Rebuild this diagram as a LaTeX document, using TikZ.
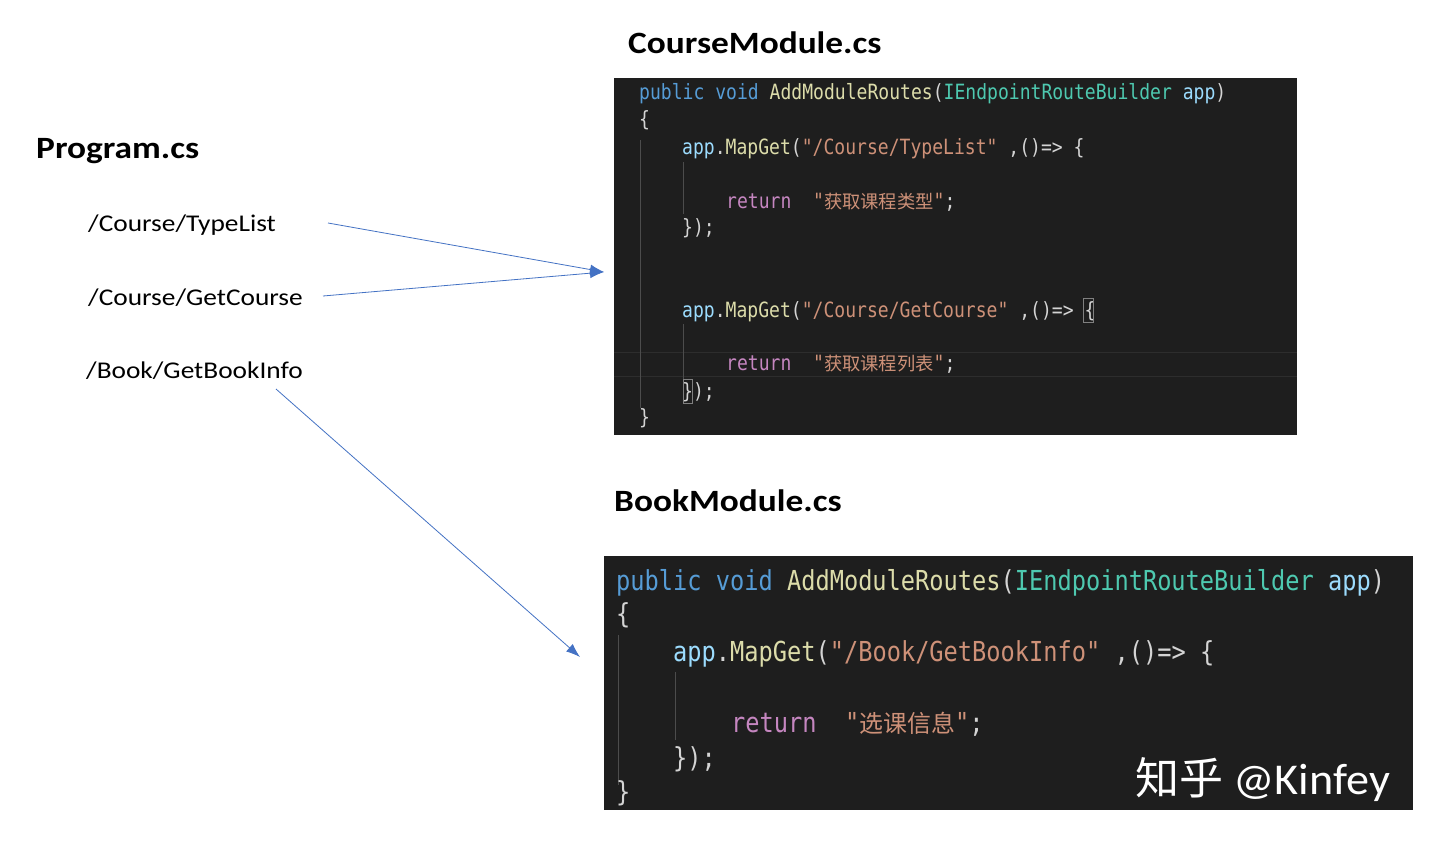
\documentclass[tikz,border=0pt]{standalone}
\usepackage{fontspec}
\setmainfont{Carlito}[FakeStretch=1.14]
\newfontfamily\code{DejaVu Sans Mono}[FakeStretch=0.86]
\newfontfamily\cjk{Noto Sans CJK SC}
\newfontfamily\cjks{Noto Sans CJK SC}[Scale=0.87]
\newfontfamily\wmf{Carlito}[FakeStretch=1.05]
\usetikzlibrary{arrows.meta}
\definecolor{bg}{HTML}{1E1E1E}
\definecolor{kw}{HTML}{569CD6}
\definecolor{fn}{HTML}{DCDCAA}
\definecolor{ty}{HTML}{4EC9B0}
\definecolor{va}{HTML}{9CDCFE}
\definecolor{st}{HTML}{CE9178}
\definecolor{rt}{HTML}{C586C0}
\definecolor{tx}{HTML}{D4D4D4}
\definecolor{ar}{HTML}{4472C4}
\newcommand{\K}[1]{\textcolor{kw}{#1}}
\newcommand{\F}[1]{\textcolor{fn}{#1}}
\newcommand{\T}[1]{\textcolor{ty}{#1}}
\newcommand{\V}[1]{\textcolor{va}{#1}}
\newcommand{\Sx}[1]{\textcolor{st}{#1}}
\newcommand{\R}[1]{\textcolor{rt}{#1}}
\begin{document}
\begin{tikzpicture}[x=1pt,y=-1pt,
  lbl/.style={anchor=base west,inner sep=0pt,font=\fontsize{24}{28}\selectfont},
  ttl/.style={anchor=base west,inner sep=0pt,font=\bfseries\fontsize{31}{36}\selectfont},
  c1/.style={anchor=base west,inner sep=0pt,text=tx,font=\code\fontsize{21}{24}\selectfont},
  c2/.style={anchor=base west,inner sep=0pt,text=tx,font=\code\fontsize{27.5}{30}\selectfont},
  arr/.style={draw=ar,line width=0.8pt,-{Latex[length=14pt,width=10pt]}},
  guide/.style={draw=gray!60!black,line width=0.8pt}]
\useasboundingbox (0,0) rectangle (1440,845);
\fill[white] (0,0) rectangle (1440,845);
% titles
\node[ttl] (prog) at (36,159) {Program.cs};
\node[ttl] (cm) at (628,54) {CourseModule.cs};
\node[ttl] (bm) at (614,511) {BookModule.cs};
\node[lbl] (r1) at (88,231) {/Course/TypeList};
\node[lbl] (r2) at (88,305) {/Course/GetCourse};
\node[lbl] (r3) at (86,378) {/Book/GetBookInfo};
% top code
\fill[bg] (614,78) rectangle (1297,435);
\draw[gray!35!black,line width=1pt] (614,352) -- (1297,352) (614,376) -- (1297,376);
\draw[guide] (640,140) -- (640,408) (683,162) -- (683,214) (683,324) -- (683,400);
\node[c1] (t1) at (639,100) {\K{public} \K{void} \F{AddModuleRoutes}(\T{IEndpointRouteBuilder} \V{app})};
\node[c1] (t2) at (639,127) {\{};
\node[c1] (t3) at (682,155) {\V{app}.\F{MapGet}(\Sx{"/Course/TypeList"} ,()=> \{};
\node[c1] (t4) at (726,208) {\R{return}\ \ \Sx{"{\cjks 获取课程类型}"};};
\node[c1] (t5) at (682,235) {\});};
\node[c1] (t6) at (682,317) {\V{app}.\F{MapGet}(\Sx{"/Course/GetCourse"} ,()=> \{};
\node[c1] (t7) at (726,370) {\R{return}\ \ \Sx{"{\cjks 获取课程列表}"};};
\node[c1] (t8) at (682,398) {\});};
\node[c1] (t9) at (639,424) {\}};
\draw[gray,line width=0.8pt] (1083,298) rectangle (1093,322) (683,379) rectangle (692,403);
% bottom code
\fill[bg] (604,556) rectangle (1413,810);
\draw[guide] (618,635) -- (618,785) (675,672) -- (675,740);
\node[c2] (b1) at (616,590) {\K{public} \K{void} \F{AddModuleRoutes}(\T{IEndpointRouteBuilder} \V{app})};
\node[c2] (b2) at (616,623) {\{};
\node[c2] (b3) at (673,661) {\V{app}.\F{MapGet}(\Sx{"/Book/GetBookInfo"} ,()=> \{};
\node[c2] (b4) at (731,732) {\R{return}\ \ \Sx{"{\cjks 选课信息}"};};
\node[c2] (b5) at (673,767) {\});};
\node[c2] (b6) at (616,801) {\}};
\node[anchor=base west,inner sep=0pt,text=white,font=\wmf\fontsize{44}{48}\selectfont] (wm) at (1135,794) {{\cjk 知乎} @Kinfey};
% arrows
\coordinate (p1) at (604,272);
\coordinate (p2) at (580,657);
\draw[arr] (328,223) -- (p1);
\draw[arr] (323,296) -- (p1);
\draw[arr] (276,389) -- (p2);
\end{tikzpicture}
\end{document}
